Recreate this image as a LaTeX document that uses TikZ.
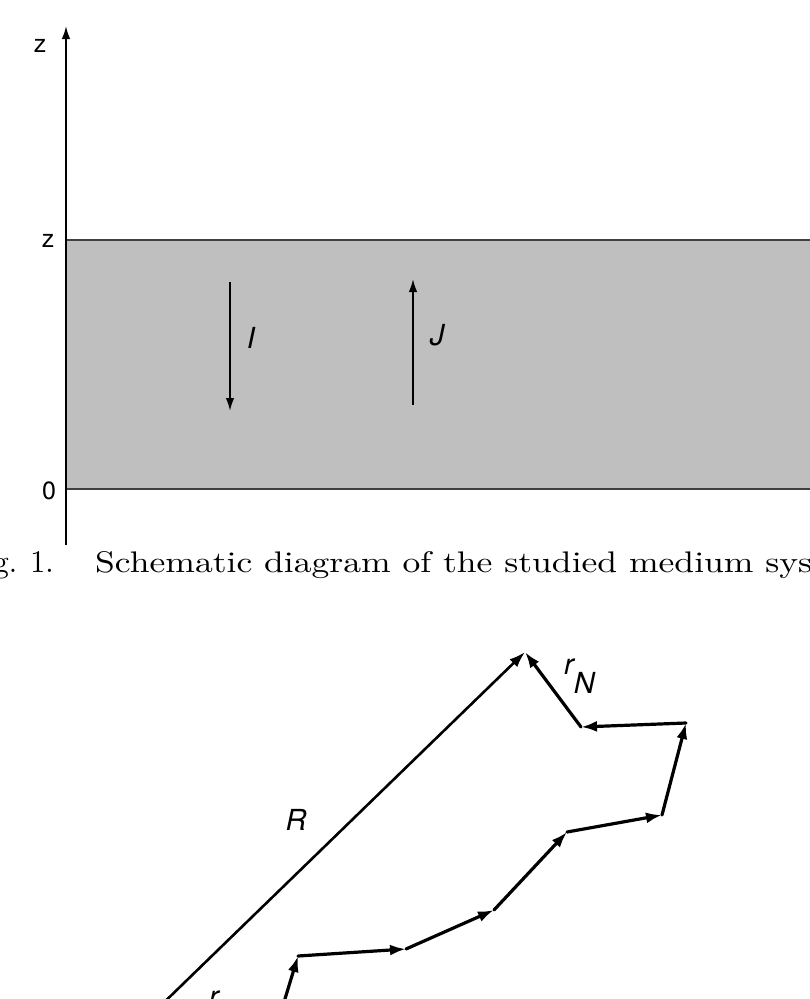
\documentclass[tikz,border=0pt]{standalone}
\usepackage{fontspec}
\newfontfamily\labelfont{TeX Gyre Heros}
\usetikzlibrary{arrows.meta}

\begin{document}
\begin{tikzpicture}[x=1pt, y=-1pt,
                      axis/.style = {line width=1.8pt, -{Latex[length=13pt, width=8.5pt]}},
                      surface/.style = {line width=1.4pt, draw=black!75},
                      layer/.style = {fill=black!25},
                      bond/.style = {line width=3.2pt, line cap=round, -{Latex[length=16pt, width=11pt]}},
                      lbl/.style = {inner sep=0pt, font=\labelfont\fontsize{25}{30}\selectfont},
                      ilbl/.style = {inner sep=0pt, font=\labelfont\itshape\fontsize{29}{32}\selectfont}]
    \useasboundingbox (0,0) rectangle (810,999);
    \clip (0,0) rectangle (810,999);
    % medium layer
    \coordinate (zl) at (66,240);
    \coordinate (zr) at (830,240);
    \coordinate (ol) at (66,489);
    \coordinate (or) at (830,489);
    \fill[layer] (zl) rectangle (or);
    \draw[surface] (zl) -- (zr) (ol) -- (or);
    % z axis
    \coordinate (axbot) at (66,545);
    \coordinate (axtop) at (66,26);
    \draw[axis] (axbot) -- (axtop);
    \node[lbl] (zaxis) at (40,46) {z};
    \node[lbl] (zsurf) at (48,241) {z};
    \node[lbl] (zero) at (49,491) {0};
    % intensities
    \coordinate (i0) at (230,282);
    \coordinate (i1) at (230,411);
    \coordinate (j0) at (413,405);
    \coordinate (j1) at (413,279);
    \draw[axis] (i0) -- (i1);
    \draw[axis] (j0) -- (j1);
    \node[ilbl] (I) at (251,338) {I};
    \node[ilbl] (J) at (437,335) {J};
    % caption
    \node[anchor=base east, inner sep=0pt] (fig) at (54,572)
        {\resizebox{60pt}{21pt}{g. 1.}};
    \node[anchor=base west, inner sep=0pt] (cap) at (95,572)
        {\resizebox{717pt}{21pt}{Schematic diagram of the studied medium sys}};
    % chain
    \coordinate (p0) at (281,1012);
    \coordinate (p1) at (298,956);
    \coordinate (p2) at (406,949);
    \coordinate (p3) at (494,910);
    \coordinate (p4) at (567,832);
    \coordinate (p5) at (662,815);
    \coordinate (p6) at (686,723);
    \coordinate (p7) at (581,727);
    \coordinate (p8) at (525,652);
    \coordinate (origin) at (150,1016);
    \foreach \a/\b in {p0/p1, p1/p2, p2/p3, p3/p4, p4/p5, p5/p6, p6/p7, p7/p8}
        \draw[bond] (\a) -- (\b);
    \draw[bond, line width=2.6pt] (origin) -- (p8);
    \node[ilbl] (R) at (296,820) {R};
    \node[ilbl, anchor=base west] (rN) at (564,674) {r\raisebox{-19pt}{N}};
    \node[ilbl, anchor=base west] (r1) at (209,1006) {r};
\end{tikzpicture}
\end{document}
